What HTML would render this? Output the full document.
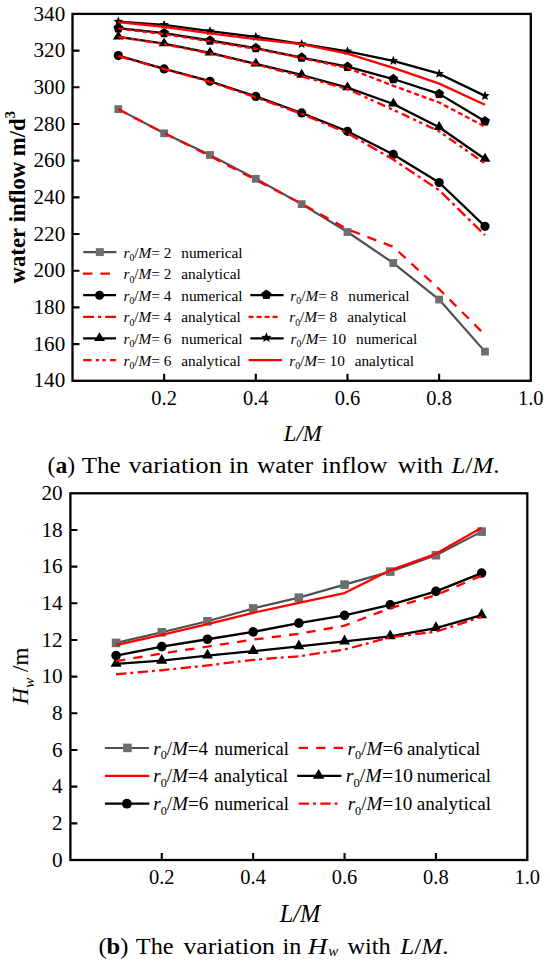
<!DOCTYPE html><html><head><meta charset="utf-8"><style>html,body{margin:0;padding:0;background:#fff;}svg{display:block;}text{font-family:"Liberation Serif", serif;font-kerning:none;}</style></head><body>
<svg width="550" height="963" viewBox="0 0 550 963">
<rect width="550" height="963" fill="#fff"/>
<polyline points="118.33,109.11 164.16,133.33 209.99,154.97 255.82,178.82 301.65,204.14 347.48,232.02 393.31,263.03 439.14,299.53 484.97,351.63" fill="none" stroke="#505050" stroke-width="2.2" stroke-linejoin="round"/>
<polyline points="118.33,55.54 164.16,68.94 209.99,81.23 255.82,96.45 301.65,112.96 347.48,131.31 393.31,154.42 439.14,182.49 484.97,226.34" fill="none" stroke="#000" stroke-width="2.3" stroke-linejoin="round"/>
<polyline points="118.33,36.83 164.16,43.62 209.99,52.97 255.82,63.80 301.65,74.99 347.48,87.65 393.31,103.97 439.14,127.27 484.97,159.01" fill="none" stroke="#000" stroke-width="2.3" stroke-linejoin="round"/>
<polyline points="118.33,28.21 164.16,33.16 209.99,40.50 255.82,48.02 301.65,57.56 347.48,66.73 393.31,79.02 439.14,93.88 484.97,121.22" fill="none" stroke="#000" stroke-width="2.3" stroke-linejoin="round"/>
<polyline points="118.33,21.60 164.16,24.91 209.99,31.14 255.82,36.83 301.65,43.99 347.48,51.32 393.31,60.86 439.14,73.70 484.97,95.90" fill="none" stroke="#000" stroke-width="2.3" stroke-linejoin="round"/>
<rect x="114.43" y="105.21" width="7.80" height="7.80" fill="#6e6e6e"/>
<rect x="160.26" y="129.43" width="7.80" height="7.80" fill="#6e6e6e"/>
<rect x="206.09" y="151.07" width="7.80" height="7.80" fill="#6e6e6e"/>
<rect x="251.92" y="174.92" width="7.80" height="7.80" fill="#6e6e6e"/>
<rect x="297.75" y="200.24" width="7.80" height="7.80" fill="#6e6e6e"/>
<rect x="343.58" y="228.12" width="7.80" height="7.80" fill="#6e6e6e"/>
<rect x="389.41" y="259.13" width="7.80" height="7.80" fill="#6e6e6e"/>
<rect x="435.24" y="295.63" width="7.80" height="7.80" fill="#6e6e6e"/>
<rect x="481.07" y="347.73" width="7.80" height="7.80" fill="#6e6e6e"/>
<circle cx="118.33" cy="55.54" r="4.60" fill="#000"/>
<circle cx="164.16" cy="68.94" r="4.60" fill="#000"/>
<circle cx="209.99" cy="81.23" r="4.60" fill="#000"/>
<circle cx="255.82" cy="96.45" r="4.60" fill="#000"/>
<circle cx="301.65" cy="112.96" r="4.60" fill="#000"/>
<circle cx="347.48" cy="131.31" r="4.60" fill="#000"/>
<circle cx="393.31" cy="154.42" r="4.60" fill="#000"/>
<circle cx="439.14" cy="182.49" r="4.60" fill="#000"/>
<circle cx="484.97" cy="226.34" r="4.60" fill="#000"/>
<polygon points="118.33,30.67 112.88,39.47 123.78,39.47" fill="#000"/>
<polygon points="164.16,37.46 158.71,46.26 169.61,46.26" fill="#000"/>
<polygon points="209.99,46.81 204.54,55.61 215.44,55.61" fill="#000"/>
<polygon points="255.82,57.64 250.37,66.44 261.27,66.44" fill="#000"/>
<polygon points="301.65,68.83 296.20,77.63 307.10,77.63" fill="#000"/>
<polygon points="347.48,81.49 342.03,90.29 352.93,90.29" fill="#000"/>
<polygon points="393.31,97.81 387.86,106.61 398.76,106.61" fill="#000"/>
<polygon points="439.14,121.11 433.69,129.91 444.59,129.91" fill="#000"/>
<polygon points="484.97,152.85 479.52,161.65 490.42,161.65" fill="#000"/>
<polygon points="118.33,23.01 123.28,26.60 121.39,32.42 115.27,32.42 113.38,26.60" fill="#000"/>
<polygon points="164.16,27.96 169.11,31.56 167.22,37.37 161.10,37.37 159.21,31.56" fill="#000"/>
<polygon points="209.99,35.30 214.94,38.89 213.05,44.71 206.93,44.71 205.04,38.89" fill="#000"/>
<polygon points="255.82,42.82 260.77,46.41 258.88,52.23 252.76,52.23 250.87,46.41" fill="#000"/>
<polygon points="301.65,52.36 306.60,55.95 304.71,61.77 298.59,61.77 296.70,55.95" fill="#000"/>
<polygon points="347.48,61.53 352.43,65.13 350.54,70.94 344.42,70.94 342.53,65.13" fill="#000"/>
<polygon points="393.31,73.82 398.26,77.42 396.37,83.23 390.25,83.23 388.36,77.42" fill="#000"/>
<polygon points="439.14,88.68 444.09,92.28 442.20,98.09 436.08,98.09 434.19,92.28" fill="#000"/>
<polygon points="484.97,116.02 489.92,119.61 488.03,125.43 481.91,125.43 480.02,119.61" fill="#000"/>
<polygon points="118.33,16.60 119.65,19.78 123.09,20.06 120.47,22.30 121.27,25.65 118.33,23.85 115.39,25.65 116.19,22.30 113.57,20.06 117.01,19.78" fill="#000"/>
<polygon points="164.16,19.91 165.48,23.09 168.92,23.36 166.30,25.60 167.10,28.95 164.16,27.16 161.22,28.95 162.02,25.60 159.40,23.36 162.84,23.09" fill="#000"/>
<polygon points="209.99,26.14 211.31,29.32 214.75,29.60 212.13,31.84 212.93,35.19 209.99,33.39 207.05,35.19 207.85,31.84 205.23,29.60 208.67,29.32" fill="#000"/>
<polygon points="255.82,31.83 257.14,35.01 260.58,35.29 257.96,37.53 258.76,40.88 255.82,39.08 252.88,40.88 253.68,37.53 251.06,35.29 254.50,35.01" fill="#000"/>
<polygon points="301.65,38.99 302.97,42.17 306.41,42.44 303.79,44.68 304.59,48.03 301.65,46.24 298.71,48.03 299.51,44.68 296.89,42.44 300.33,42.17" fill="#000"/>
<polygon points="347.48,46.32 348.80,49.50 352.24,49.78 349.62,52.02 350.42,55.37 347.48,53.57 344.54,55.37 345.34,52.02 342.72,49.78 346.16,49.50" fill="#000"/>
<polygon points="393.31,55.86 394.63,59.04 398.07,59.32 395.45,61.56 396.25,64.91 393.31,63.11 390.37,64.91 391.17,61.56 388.55,59.32 391.99,59.04" fill="#000"/>
<polygon points="439.14,68.70 440.46,71.88 443.90,72.16 441.28,74.40 442.08,77.75 439.14,75.95 436.20,77.75 437.00,74.40 434.38,72.16 437.82,71.88" fill="#000"/>
<polygon points="484.97,90.90 486.29,94.08 489.73,94.36 487.11,96.60 487.91,99.95 484.97,98.15 482.03,99.95 482.83,96.60 480.21,94.36 483.65,94.08" fill="#000"/>
<polyline points="118.33,109.29 164.16,133.14 209.99,156.07 255.82,179.92 301.65,203.77 347.48,229.27 393.31,246.88 439.14,289.08 484.97,334.94" fill="none" stroke="#ff0000" stroke-width="2.3" stroke-dasharray="9.5 8" stroke-linejoin="round"/>
<polyline points="118.33,56.09 164.16,68.94 209.99,81.78 255.82,97.37 301.65,113.88 347.48,133.14 393.31,159.56 439.14,190.20 484.97,235.14" fill="none" stroke="#ff0000" stroke-width="2.3" stroke-dasharray="11 3.9 3.3 3.9" stroke-linejoin="round"/>
<polyline points="118.33,36.83 164.16,44.17 209.99,53.34 255.82,64.35 301.65,76.27 347.48,89.11 393.31,109.84 439.14,131.31 484.97,163.41" fill="none" stroke="#ff0000" stroke-width="2.3" stroke-dasharray="8.5 4.2 3.3 3.3 3.3 4.2" stroke-linejoin="round"/>
<polyline points="118.33,28.58 164.16,34.08 209.99,41.42 255.82,48.76 301.65,57.93 347.48,68.02 393.31,85.81 439.14,102.51 484.97,126.72" fill="none" stroke="#ff0000" stroke-width="2.3" stroke-dasharray="5 3" stroke-linejoin="round"/>
<polyline points="118.33,22.16 164.16,26.74 209.99,33.35 255.82,39.03 301.65,44.17 347.48,53.53 393.31,67.83 439.14,83.61 484.97,104.71" fill="none" stroke="#ff0000" stroke-width="2.3" stroke-linejoin="round"/>
<rect x="72.50" y="13.90" width="458.30" height="366.90" fill="none" stroke="#000" stroke-width="2.3"/>
<path d="M72.50 344.11H79.50 M72.50 307.42H79.50 M72.50 270.73H79.50 M72.50 234.04H79.50 M72.50 197.35H79.50 M72.50 160.66H79.50 M72.50 123.97H79.50 M72.50 87.28H79.50 M72.50 50.59H79.50 M164.16 380.80V373.80 M255.82 380.80V373.80 M347.48 380.80V373.80 M439.14 380.80V373.80" stroke="#000" stroke-width="2.1" fill="none"/>
<text x="65.2" y="387.40" font-size="21.4" text-anchor="end" textLength="31.6" lengthAdjust="spacingAndGlyphs">140</text>
<text x="65.2" y="350.71" font-size="21.4" text-anchor="end" textLength="31.6" lengthAdjust="spacingAndGlyphs">160</text>
<text x="65.2" y="314.02" font-size="21.4" text-anchor="end" textLength="31.6" lengthAdjust="spacingAndGlyphs">180</text>
<text x="65.2" y="277.33" font-size="21.4" text-anchor="end" textLength="31.6" lengthAdjust="spacingAndGlyphs">200</text>
<text x="65.2" y="240.64" font-size="21.4" text-anchor="end" textLength="31.6" lengthAdjust="spacingAndGlyphs">220</text>
<text x="65.2" y="203.95" font-size="21.4" text-anchor="end" textLength="31.6" lengthAdjust="spacingAndGlyphs">240</text>
<text x="65.2" y="167.26" font-size="21.4" text-anchor="end" textLength="31.6" lengthAdjust="spacingAndGlyphs">260</text>
<text x="65.2" y="130.57" font-size="21.4" text-anchor="end" textLength="31.6" lengthAdjust="spacingAndGlyphs">280</text>
<text x="65.2" y="93.88" font-size="21.4" text-anchor="end" textLength="31.6" lengthAdjust="spacingAndGlyphs">300</text>
<text x="65.2" y="57.19" font-size="21.4" text-anchor="end" textLength="31.6" lengthAdjust="spacingAndGlyphs">320</text>
<text x="65.2" y="20.50" font-size="21.4" text-anchor="end" textLength="31.6" lengthAdjust="spacingAndGlyphs">340</text>
<text x="164.16" y="405.3" font-size="21.4" text-anchor="middle" textLength="25.6" lengthAdjust="spacingAndGlyphs">0.2</text>
<text x="255.82" y="405.3" font-size="21.4" text-anchor="middle" textLength="25.6" lengthAdjust="spacingAndGlyphs">0.4</text>
<text x="347.48" y="405.3" font-size="21.4" text-anchor="middle" textLength="25.6" lengthAdjust="spacingAndGlyphs">0.6</text>
<text x="439.14" y="405.3" font-size="21.4" text-anchor="middle" textLength="25.6" lengthAdjust="spacingAndGlyphs">0.8</text>
<text x="530.80" y="405.3" font-size="21.4" text-anchor="middle" textLength="25.6" lengthAdjust="spacingAndGlyphs">1.0</text>
<text x="302.8" y="440.6" font-size="22.8" font-style="italic" text-anchor="middle">L/M</text>
<text transform="translate(24.9,283.4) rotate(-90)" font-size="22.7" font-weight="bold">water inflow m/d<tspan font-size="14.5" dy="-9.5">3</tspan></text>
<path d="M83.3 252.10H116.4" stroke="#505050" stroke-width="2.2"/>
<rect x="95.85" y="248.15" width="7.90" height="7.90" fill="#6e6e6e"/>
<path d="M82.9 273.60H116.4" stroke="#ff0000" stroke-width="2.3" stroke-dasharray="9.5 8"/>
<path d="M83.1 295.20H116.1" stroke="#000" stroke-width="2.3"/>
<circle cx="99.50" cy="295.20" r="4.55" fill="#000"/>
<path d="M83.1 316.90H116.1" stroke="#ff0000" stroke-width="2.3" stroke-dasharray="11 3.9 3.3 3.9"/>
<path d="M83.1 338.40H116.1" stroke="#000" stroke-width="2.3"/>
<polygon points="99.50,332.24 94.05,341.04 104.95,341.04" fill="#000"/>
<path d="M83.1 360.20H116.1" stroke="#ff0000" stroke-width="2.3" stroke-dasharray="8.5 4.2 3.3 3.3 3.3 4.2"/>
<text x="123.50" y="257.50" font-size="15.3"><tspan font-style="italic">r</tspan><tspan font-size="9.8" dy="3.6">0</tspan><tspan dy="-3.6">/</tspan><tspan font-style="italic">M</tspan>= 2</text>
<text x="181.30" y="257.50" font-size="15.3">numerical</text>
<text x="123.50" y="279.00" font-size="15.3"><tspan font-style="italic">r</tspan><tspan font-size="9.8" dy="3.6">0</tspan><tspan dy="-3.6">/</tspan><tspan font-style="italic">M</tspan>= 2</text>
<text x="181.30" y="279.00" font-size="15.3">analytical</text>
<text x="123.50" y="300.60" font-size="15.3"><tspan font-style="italic">r</tspan><tspan font-size="9.8" dy="3.6">0</tspan><tspan dy="-3.6">/</tspan><tspan font-style="italic">M</tspan>= 4</text>
<text x="181.30" y="300.60" font-size="15.3">numerical</text>
<text x="123.50" y="322.30" font-size="15.3"><tspan font-style="italic">r</tspan><tspan font-size="9.8" dy="3.6">0</tspan><tspan dy="-3.6">/</tspan><tspan font-style="italic">M</tspan>= 4</text>
<text x="181.30" y="322.30" font-size="15.3">analytical</text>
<text x="123.50" y="343.80" font-size="15.3"><tspan font-style="italic">r</tspan><tspan font-size="9.8" dy="3.6">0</tspan><tspan dy="-3.6">/</tspan><tspan font-style="italic">M</tspan>= 6</text>
<text x="181.30" y="343.80" font-size="15.3">numerical</text>
<text x="123.50" y="365.60" font-size="15.3"><tspan font-style="italic">r</tspan><tspan font-size="9.8" dy="3.6">0</tspan><tspan dy="-3.6">/</tspan><tspan font-style="italic">M</tspan>= 6</text>
<text x="181.30" y="365.60" font-size="15.3">analytical</text>
<path d="M250.3 295.20H283.6" stroke="#000" stroke-width="2.3"/>
<polygon points="266.40,289.40 271.44,293.06 269.52,298.99 263.28,298.99 261.36,293.06" fill="#000"/>
<path d="M248.6 316.90H278" stroke="#ff0000" stroke-width="2.3" stroke-dasharray="5 3"/>
<path d="M250.3 338.40H283.6" stroke="#000" stroke-width="2.3"/>
<polygon points="266.40,332.20 267.83,335.63 271.54,335.93 268.71,338.35 269.57,341.97 266.40,340.03 263.23,341.97 264.09,338.35 261.26,335.93 264.97,335.63" fill="#000"/>
<path d="M248.6 360.20H282.1" stroke="#ff0000" stroke-width="2.3"/>
<text x="290.30" y="300.60" font-size="15.3"><tspan font-style="italic">r</tspan><tspan font-size="9.8" dy="3.6">0</tspan><tspan dy="-3.6">/</tspan><tspan font-style="italic">M</tspan>= 8</text>
<text x="348.35" y="300.60" font-size="15.3">numerical</text>
<text x="289.20" y="322.30" font-size="15.3"><tspan font-style="italic">r</tspan><tspan font-size="9.8" dy="3.6">0</tspan><tspan dy="-3.6">/</tspan><tspan font-style="italic">M</tspan>= 8</text>
<text x="347.15" y="322.30" font-size="15.3">analytical</text>
<text x="290.60" y="343.80" font-size="15.3"><tspan font-style="italic">r</tspan><tspan font-size="9.8" dy="3.6">0</tspan><tspan dy="-3.6">/</tspan><tspan font-style="italic">M</tspan>= 10</text>
<text x="356.05" y="343.80" font-size="15.3">numerical</text>
<text x="289.20" y="365.60" font-size="15.3"><tspan font-style="italic">r</tspan><tspan font-size="9.8" dy="3.6">0</tspan><tspan dy="-3.6">/</tspan><tspan font-style="italic">M</tspan>= 10</text>
<text x="354.65" y="365.60" font-size="15.3">analytical</text>
<text transform="translate(47.56,473.30) scale(1.0425,1)"><tspan font-size="22.60">(</tspan><tspan font-weight="bold" font-size="22.60">a</tspan><tspan font-size="22.60">)</tspan></text>
<text transform="translate(81.65,473.30) scale(1.1106,1)"><tspan font-size="22.60">The</tspan></text>
<text transform="translate(128.40,473.30) scale(1.1627,1)"><tspan font-size="22.60">variation</tspan></text>
<text transform="translate(228.97,473.30) scale(1.1216,1)"><tspan font-size="22.60">in</tspan></text>
<text transform="translate(256.88,473.30) scale(1.1207,1)"><tspan font-size="22.60">water</tspan></text>
<text transform="translate(321.87,473.30) scale(1.1107,1)"><tspan font-size="22.60">inflow</tspan></text>
<text transform="translate(397.78,473.30) scale(1.1290,1)"><tspan font-size="22.60">with</tspan></text>
<text transform="translate(451.59,473.30) scale(1.1045,1)"><tspan font-style="italic" font-size="22.60">L</tspan><tspan font-size="22.60">/</tspan><tspan font-style="italic" font-size="22.60">M</tspan><tspan font-size="22.60">.</tspan></text>
<polyline points="116.09,642.91 161.78,632.28 207.47,621.28 253.16,608.44 298.85,597.63 344.54,584.61 390.23,571.59 435.92,555.27 481.61,531.62" fill="none" stroke="#505050" stroke-width="2.2" stroke-linejoin="round"/>
<polyline points="116.09,655.56 161.78,646.58 207.47,639.25 253.16,631.91 298.85,623.11 344.54,615.41 390.23,604.78 435.92,591.39 481.61,573.06" fill="none" stroke="#000" stroke-width="2.3" stroke-linejoin="round"/>
<polyline points="116.09,663.82 161.78,660.70 207.47,655.56 253.16,651.16 298.85,646.40 344.54,641.45 390.23,636.31 435.92,628.06 481.61,615.23" fill="none" stroke="#000" stroke-width="2.3" stroke-linejoin="round"/>
<rect x="111.79" y="638.61" width="8.60" height="8.60" fill="#6e6e6e"/>
<rect x="157.48" y="627.98" width="8.60" height="8.60" fill="#6e6e6e"/>
<rect x="203.17" y="616.98" width="8.60" height="8.60" fill="#6e6e6e"/>
<rect x="248.86" y="604.14" width="8.60" height="8.60" fill="#6e6e6e"/>
<rect x="294.55" y="593.33" width="8.60" height="8.60" fill="#6e6e6e"/>
<rect x="340.24" y="580.31" width="8.60" height="8.60" fill="#6e6e6e"/>
<rect x="385.93" y="567.29" width="8.60" height="8.60" fill="#6e6e6e"/>
<rect x="431.62" y="550.97" width="8.60" height="8.60" fill="#6e6e6e"/>
<rect x="477.31" y="527.32" width="8.60" height="8.60" fill="#6e6e6e"/>
<circle cx="116.09" cy="655.56" r="4.80" fill="#000"/>
<circle cx="161.78" cy="646.58" r="4.80" fill="#000"/>
<circle cx="207.47" cy="639.25" r="4.80" fill="#000"/>
<circle cx="253.16" cy="631.91" r="4.80" fill="#000"/>
<circle cx="298.85" cy="623.11" r="4.80" fill="#000"/>
<circle cx="344.54" cy="615.41" r="4.80" fill="#000"/>
<circle cx="390.23" cy="604.78" r="4.80" fill="#000"/>
<circle cx="435.92" cy="591.39" r="4.80" fill="#000"/>
<circle cx="481.61" cy="573.06" r="4.80" fill="#000"/>
<polygon points="116.09,656.96 110.59,666.76 121.59,666.76" fill="#000"/>
<polygon points="161.78,653.84 156.28,663.64 167.28,663.64" fill="#000"/>
<polygon points="207.47,648.70 201.97,658.50 212.97,658.50" fill="#000"/>
<polygon points="253.16,644.30 247.66,654.10 258.66,654.10" fill="#000"/>
<polygon points="298.85,639.54 293.35,649.34 304.35,649.34" fill="#000"/>
<polygon points="344.54,634.59 339.04,644.39 350.04,644.39" fill="#000"/>
<polygon points="390.23,629.45 384.73,639.25 395.73,639.25" fill="#000"/>
<polygon points="435.92,621.20 430.42,631.00 441.42,631.00" fill="#000"/>
<polygon points="481.61,608.37 476.11,618.17 487.11,618.17" fill="#000"/>
<polyline points="116.09,645.11 161.78,634.85 207.47,624.03 253.16,612.84 298.85,602.76 344.54,593.04 390.23,570.31 435.92,553.81 481.61,527.77" fill="none" stroke="#ff0000" stroke-width="2.3" stroke-linejoin="round"/>
<polyline points="116.09,661.07 161.78,653.55 207.47,646.58 253.16,639.61 298.85,633.75 344.54,625.68 390.23,608.08 435.92,595.24 481.61,575.62" fill="none" stroke="#ff0000" stroke-width="2.3" stroke-dasharray="9.3 8.2" stroke-linejoin="round"/>
<polyline points="116.09,674.27 161.78,670.23 207.47,665.47 253.16,659.78 298.85,656.30 344.54,649.51 390.23,637.23 435.92,631.73 481.61,616.88" fill="none" stroke="#ff0000" stroke-width="2.3" stroke-dasharray="10.4 3.9 2.9 4.4" stroke-linejoin="round"/>
<rect x="70.40" y="493.30" width="456.90" height="366.70" fill="none" stroke="#000" stroke-width="2.3"/>
<path d="M70.40 823.33H77.40 M70.40 786.66H77.40 M70.40 749.99H77.40 M70.40 713.32H77.40 M70.40 676.65H77.40 M70.40 639.98H77.40 M70.40 603.31H77.40 M70.40 566.64H77.40 M70.40 529.97H77.40 M161.78 860.00V853.00 M253.16 860.00V853.00 M344.54 860.00V853.00 M435.92 860.00V853.00" stroke="#000" stroke-width="2.1" fill="none"/>
<text x="62.7" y="866.60" font-size="20.8" text-anchor="end" textLength="10.6" lengthAdjust="spacingAndGlyphs">0</text>
<text x="62.7" y="829.93" font-size="20.8" text-anchor="end" textLength="10.6" lengthAdjust="spacingAndGlyphs">2</text>
<text x="62.7" y="793.26" font-size="20.8" text-anchor="end" textLength="10.6" lengthAdjust="spacingAndGlyphs">4</text>
<text x="62.7" y="756.59" font-size="20.8" text-anchor="end" textLength="10.6" lengthAdjust="spacingAndGlyphs">6</text>
<text x="62.7" y="719.92" font-size="20.8" text-anchor="end" textLength="10.6" lengthAdjust="spacingAndGlyphs">8</text>
<text x="62.7" y="683.25" font-size="20.8" text-anchor="end" textLength="21.2" lengthAdjust="spacingAndGlyphs">10</text>
<text x="62.7" y="646.58" font-size="20.8" text-anchor="end" textLength="21.2" lengthAdjust="spacingAndGlyphs">12</text>
<text x="62.7" y="609.91" font-size="20.8" text-anchor="end" textLength="21.2" lengthAdjust="spacingAndGlyphs">14</text>
<text x="62.7" y="573.24" font-size="20.8" text-anchor="end" textLength="21.2" lengthAdjust="spacingAndGlyphs">16</text>
<text x="62.7" y="536.57" font-size="20.8" text-anchor="end" textLength="21.2" lengthAdjust="spacingAndGlyphs">18</text>
<text x="62.7" y="499.90" font-size="20.8" text-anchor="end" textLength="21.2" lengthAdjust="spacingAndGlyphs">20</text>
<text x="161.78" y="884.4" font-size="21.2" text-anchor="middle" textLength="25.6" lengthAdjust="spacingAndGlyphs">0.2</text>
<text x="253.16" y="884.4" font-size="21.2" text-anchor="middle" textLength="25.6" lengthAdjust="spacingAndGlyphs">0.4</text>
<text x="344.54" y="884.4" font-size="21.2" text-anchor="middle" textLength="25.6" lengthAdjust="spacingAndGlyphs">0.6</text>
<text x="435.92" y="884.4" font-size="21.2" text-anchor="middle" textLength="25.6" lengthAdjust="spacingAndGlyphs">0.8</text>
<text x="527.30" y="884.4" font-size="21.2" text-anchor="middle" textLength="25.6" lengthAdjust="spacingAndGlyphs">1.0</text>
<text x="300.0" y="922.2" font-size="24.4" font-style="italic" text-anchor="middle">L/M</text>
<text transform="translate(28,704.4) rotate(-90)" font-size="23" font-style="italic">H<tspan font-size="15" dy="6">w</tspan><tspan font-style="normal" dy="-6"> /m</tspan></text>
<path d="M104.9 747.90H149.1" stroke="#505050" stroke-width="2"/>
<rect x="123.10" y="743.60" width="8.60" height="8.60" fill="#6e6e6e"/>
<path d="M104.9 775.85H149.3" stroke="#ff0000" stroke-width="2.2"/>
<path d="M104.9 803.70H149.3" stroke="#000" stroke-width="2.2"/>
<circle cx="126.90" cy="803.70" r="4.90" fill="#000"/>
<path d="M298.7 747.90H343.5" stroke="#ff0000" stroke-width="2.2" stroke-dasharray="9.3 8.2"/>
<path d="M297.1 775.85H341.5" stroke="#000" stroke-width="2.2"/>
<polygon points="318.60,768.99 312.85,778.79 324.35,778.79" fill="#000"/>
<path d="M298.7 803.70H340" stroke="#ff0000" stroke-width="2.2" stroke-dasharray="10.4 3.9 2.9 4.4"/>
<text transform="translate(153.23,754.50) scale(0.9755,1)"><tspan font-style="italic" font-size="19.50">r</tspan><tspan font-size="12.50" dy="4.80">0</tspan><tspan font-size="19.50" dy="-4.80">/</tspan><tspan font-style="italic" font-size="19.50">M</tspan><tspan font-size="19.50">=4</tspan></text>
<text transform="translate(214.57,754.50) scale(0.9530,1)"><tspan font-size="19.50">numerical</tspan></text>
<text transform="translate(153.23,782.45) scale(0.9755,1)"><tspan font-style="italic" font-size="19.50">r</tspan><tspan font-size="12.50" dy="4.80">0</tspan><tspan font-size="19.50" dy="-4.80">/</tspan><tspan font-style="italic" font-size="19.50">M</tspan><tspan font-size="19.50">=4</tspan></text>
<text transform="translate(213.93,782.45) scale(0.9784,1)"><tspan font-size="19.50">analytical</tspan></text>
<text transform="translate(153.23,810.30) scale(0.9804,1)"><tspan font-style="italic" font-size="19.50">r</tspan><tspan font-size="12.50" dy="4.80">0</tspan><tspan font-size="19.50" dy="-4.80">/</tspan><tspan font-style="italic" font-size="19.50">M</tspan><tspan font-size="19.50">=6</tspan></text>
<text transform="translate(214.47,810.30) scale(0.9556,1)"><tspan font-size="19.50">numerical</tspan></text>
<text transform="translate(347.62,754.50) scale(0.9840,1)"><tspan font-style="italic" font-size="19.50">r</tspan><tspan font-size="12.50" dy="4.80">0</tspan><tspan font-size="19.50" dy="-4.80">/</tspan><tspan font-style="italic" font-size="19.50">M</tspan><tspan font-size="19.50">=6</tspan></text>
<text transform="translate(406.94,754.50) scale(0.9690,1)"><tspan font-size="19.50">analytical</tspan></text>
<text transform="translate(345.69,782.45) scale(1.0207,1)"><tspan font-style="italic" font-size="19.50">r</tspan><tspan font-size="12.50" dy="4.80">0</tspan><tspan font-size="19.50" dy="-4.80">/</tspan><tspan font-style="italic" font-size="19.50">M</tspan><tspan font-size="19.50">=10</tspan></text>
<text transform="translate(416.77,782.45) scale(0.9517,1)"><tspan font-size="19.50">numerical</tspan></text>
<text transform="translate(347.63,810.30) scale(0.9804,1)"><tspan font-style="italic" font-size="19.50">r</tspan><tspan font-size="12.50" dy="4.80">0</tspan><tspan font-size="19.50" dy="-4.80">/</tspan><tspan font-style="italic" font-size="19.50">M</tspan><tspan font-size="19.50">=10</tspan></text>
<text transform="translate(416.83,810.30) scale(0.9784,1)"><tspan font-size="19.50">analytical</tspan></text>
<text transform="translate(98.42,953.80) scale(1.0845,1)"><tspan font-size="22.60">(</tspan><tspan font-weight="bold" font-size="22.60">b</tspan><tspan font-size="22.60">)</tspan></text>
<text transform="translate(135.86,953.80) scale(1.0753,1)"><tspan font-size="22.60">The</tspan></text>
<text transform="translate(183.40,953.80) scale(1.1402,1)"><tspan font-size="22.60">variation</tspan></text>
<text transform="translate(282.49,953.80) scale(1.0679,1)"><tspan font-size="22.60">in</tspan></text>
<text transform="translate(307.79,953.80) scale(1.1946,1)"><tspan font-style="italic" font-size="22.60">H</tspan></text>
<text transform="translate(328.25,956.00) scale(0.9539,1)"><tspan font-style="italic" font-size="15.50">w</tspan></text>
<text transform="translate(347.48,953.80) scale(1.0788,1)"><tspan font-size="22.60">with</tspan></text>
<text transform="translate(400.29,953.80) scale(1.1117,1)"><tspan font-style="italic" font-size="22.60">L</tspan><tspan font-size="22.60">/</tspan><tspan font-style="italic" font-size="22.60">M</tspan><tspan font-size="22.60">.</tspan></text>
</svg></body></html>
